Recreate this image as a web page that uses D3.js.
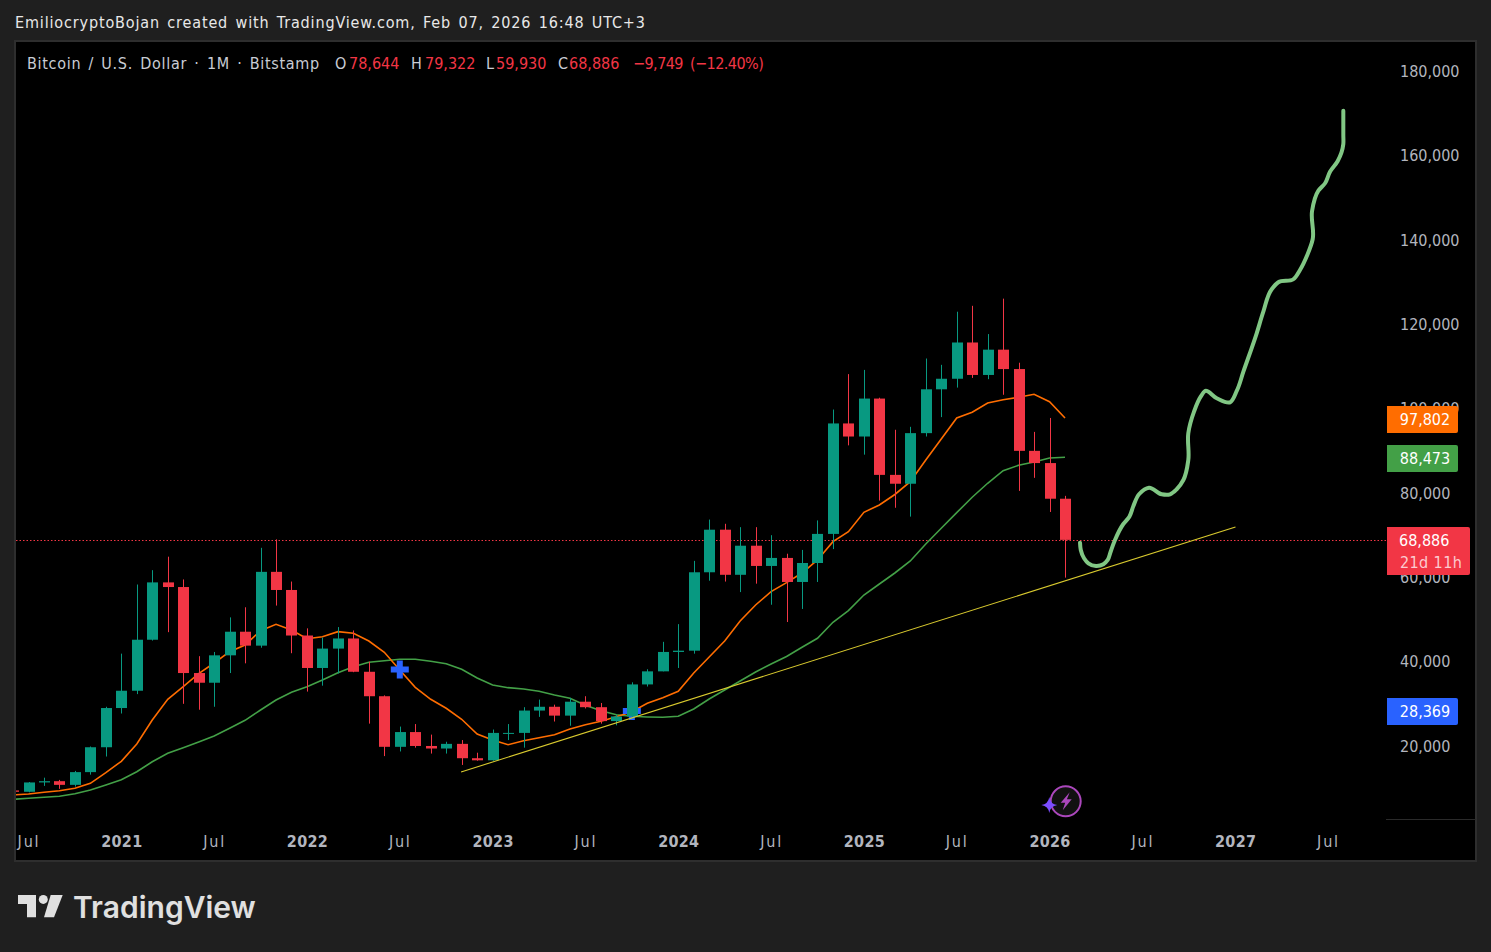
<!DOCTYPE html>
<html>
<head>
<meta charset="utf-8">
<script src="https://d3js.org/d3.v7.min.js"></script>
<style>
html, body { margin: 0; padding: 0; background: #1f1f1f; }
svg { display: block; }
text { font-family: "DejaVu Sans Condensed", "DejaVu Sans", sans-serif; font-stretch: condensed; font-size: 16px; }
.spaced { letter-spacing: 0.85px; word-spacing: 2px; }
.spaced-legend { letter-spacing: 0.7px; word-spacing: 2px; }
</style>
</head>
<body>
<svg id="chart" width="1491" height="952"></svg>
<script>
// bars are monthly, first entry is Jun 2020 (month index -1)
const firstMonth = -1;
const opens = [9450,9135,11350,11650,10780,13800,19700,29000,33100,45200,58800,57700,37300,35000,41500,47100,43800,61300,57000,46200,38500,43100,45500,37600,31800,19800,23300,20000,19400,20500,17100,16600,23100,23100,28400,29300,27200,30500,29200,25900,27000,34600,37700,42300,42600,61200,71300,60600,67500,62700,64600,58900,63400,70300,96500,93400,102400,84300,82200,94200,104600,107100,115700,108000,114000,109400,90000,87100,78644];
const highs = [10400,11450,12480,11950,14080,19870,29300,41900,58300,61700,64900,59500,41300,42300,50500,52900,67000,69000,59000,47900,45700,48200,47400,40000,32000,24600,25200,22700,21000,21400,18400,23900,25200,29200,31000,29800,31400,31800,30200,27400,35100,38200,44700,48900,63900,73700,72700,71900,71900,70000,65600,66500,73500,99800,108200,109200,102600,95000,95700,111900,110400,123000,124400,117700,126100,110900,94500,97800,79322];
const lows = [8900,9000,10530,9830,10370,13200,17500,27700,32300,45000,47000,30000,28600,29300,37300,39600,43300,53300,42000,32900,34300,37200,37500,25300,17600,18700,19600,18200,18200,15500,16500,16500,21400,19600,26900,25800,24800,28900,25300,24900,26600,34100,37700,38500,41900,59200,59000,56500,58500,53500,49400,52500,58900,66700,91300,89100,78200,76500,74400,93400,98000,105000,107300,107000,103300,80500,83600,75500,59930];
const closes = [9135,11350,11650,10780,13800,19700,29000,33100,45200,58800,57700,37300,35000,41500,47100,43800,61300,57000,46200,38500,43100,45500,37600,31800,19800,23300,20000,19400,20500,17100,16600,23100,23100,28400,29300,27200,30500,29200,25900,27000,34600,37700,42300,42600,61200,71300,60600,67500,62700,64600,58900,63400,70300,96500,93400,102400,84300,82200,94200,104600,107100,115700,108000,114000,109400,90000,87100,78644,68886];

const fastAverage = [8370,8610,9010,9390,9960,11150,13660,16370,20470,26160,31070,34060,37150,39680,42360,43950,47350,48860,47510,45450,45920,47110,46730,44900,42220,38020,33920,31070,28940,26330,22840,21420,20300,21250,21970,22680,24030,25050,25860,26950,28130,30120,31450,32970,37310,41110,44900,49650,53440,56600,58730,61030,64120,68460,70830,75430,77160,79650,82690,87840,92820,97800,99150,101360,102140,102710,103420,101660,97802];
const slowAverage = [7350,7590,7830,8070,8680,9560,10750,12000,13900,16270,18260,19590,20950,22370,24190,26090,28540,30910,32730,34060,35650,37380,38810,39850,40230,40560,40560,40090,39520,38190,36130,34470,33830,33520,32970,32090,31310,29650,28370,27420,27040,26880,26800,27040,28770,31140,33280,35410,37550,39450,41230,43410,45540,49340,52090,55810,58420,61030,63880,67910,71630,75340,78990,82310,85300,86580,87360,88310,88473];

// hand drawn projection: month index and price
const brushMonths = [67.97,68.02,68.23,68.51,69.0,69.48,69.76,69.95,70.23,70.77,71.16,71.42,71.8,72.43,73.25,73.79,74.22,74.65,74.97,74.97,75.34,75.77,76.05,76.81,77.67,78.1,78.53,79.39,79.82,80.36,80.79,81.76,82.19,82.66,83.01,82.97,83.38,83.81,84.13,84.63,84.99,84.99,84.99];
const brushPrices = [68220,66490,64520,63330,62690,63100,64120,66080,68860,72650,74390,76920,79770,81270,79700,79700,80890,83090,87840,94170,99290,102850,104200,102470,101520,104200,108780,117890,123010,128330,129990,130700,132900,136460,140190,146900,151710,153470,156220,158760,162790,164900,170690];

const trendMonths = [27.96,78.02];
const trendPrices = [13830,71940];

const crossMonths = [24,39];
const crossPrices = [38140,28300];

const priceTicks = [20000,40000,60000,80000,100000,120000,140000,160000,180000];
const timeMonths = [0,6,12,18,24,30,36,42,48,54,60,66,72,78,84];
const timeLabels = ['Jul','2021','Jul','2022','Jul','2023','Jul','2024','Jul','2025','Jul','2026','Jul','2027','Jul'];

const lastPrice = 68886;
const priceTags = [
    {text: '97,802', value: 97802, color: '#ff6d00'},
    {text: '88,473', value: 88473, color: '#43a047'},
    {text: '28,369', value: 28369, color: '#2962ff'}
];

const legendParts = [
    {x: 27, text: 'Bitcoin / U.S. Dollar · 1M · Bitstamp', color: '#c9ccd4', cls: 'spaced-legend'},
    {x: 335, text: 'O', color: '#c9ccd4'},
    {x: 349, text: '78,644', color: '#f23645'},
    {x: 411, text: 'H', color: '#c9ccd4'},
    {x: 425, text: '79,322', color: '#f23645'},
    {x: 486, text: 'L', color: '#c9ccd4'},
    {x: 496, text: '59,930', color: '#f23645'},
    {x: 558, text: 'C', color: '#c9ccd4'},
    {x: 569, text: '68,886', color: '#f23645'},
    {x: 633, text: '\u22129,749', color: '#f23645', squeeze: true},
    {x: 690, text: '(\u221212.40%)', color: '#f23645', squeeze: true}
];

const up = '#089981';
const down = '#f23645';
const bodyWidth = 11;

const svg = d3.select('#chart');

const panel = {left: 16, right: 1476, top: 42, bottom: 861};
const plotRight = 1386;
const axisBottom = 819.5;

svg.append('text')
    .attr('class', 'spaced')
    .attr('x', 15)
    .attr('y', 28)
    .attr('fill', '#e8e8e8')
    .text('EmiliocryptoBojan created with TradingView.com, Feb 07, 2026 16:48 UTC+3');

svg.append('rect')
    .attr('x', panel.left - 1)
    .attr('y', panel.top - 1)
    .attr('width', panel.right - panel.left + 1)
    .attr('height', panel.bottom - panel.top + 1)
    .attr('fill', '#000')
    .attr('stroke', '#2e2e2e')
    .attr('stroke-width', 2);

svg.append('defs').append('clipPath')
    .attr('id', 'plot-clip')
    .append('rect')
    .attr('x', panel.left)
    .attr('y', panel.top)
    .attr('width', plotRight - panel.left)
    .attr('height', axisBottom - panel.top);

const x = d3.scaleLinear().domain([0, 84]).range([28.5, 1328]);
const y = d3.scaleLinear().domain([0, 180000]).range([830.3, 71.4]);

// axes first, the price tags sit on top of them
const priceAxis = svg.append('g')
    .attr('transform', `translate(${plotRight},0)`)
    .call(d3.axisRight(y).tickValues(priceTicks).tickSize(0).tickPadding(14).tickFormat(d3.format(',')));
priceAxis.select('.domain').remove();
priceAxis.selectAll('text')
    .attr('fill', '#b2b5be')
    .style('font-size', '16px')
    .style('font-family', '"DejaVu Sans Condensed", "DejaVu Sans", sans-serif');

const timeAxis = svg.append('g')
    .attr('transform', 'translate(0,831)')
    .call(d3.axisBottom(x).tickValues(timeMonths).tickSize(0).tickPadding(5)
        .tickFormat((d, i) => timeLabels[i]));
timeAxis.select('.domain').remove();
timeAxis.selectAll('text')
    .attr('fill', '#b2b5be')
    .style('font-size', '16px')
    .style('font-family', '"DejaVu Sans Condensed", "DejaVu Sans", sans-serif')
    .style('letter-spacing', (d, i) => timeLabels[i] === 'Jul' ? '1.8px' : '0.3px')
    .style('font-weight', (d, i) => timeLabels[i] === 'Jul' ? 'normal' : 'bold');

svg.append('line')
    .attr('x1', plotRight)
    .attr('x2', panel.right)
    .attr('y1', axisBottom)
    .attr('y2', axisBottom)
    .attr('stroke', '#2a2a2a');

const plot = svg.append('g').attr('clip-path', 'url(#plot-clip)');
const monthOf = i => i + firstMonth;

// last price line
plot.append('line')
    .attr('x1', panel.left)
    .attr('x2', plotRight)
    .attr('y1', Math.round(y(lastPrice)) + 0.5)
    .attr('y2', Math.round(y(lastPrice)) + 0.5)
    .attr('stroke', down)
    .attr('stroke-dasharray', '1.5 2');

const averageLine = d3.line().x((d, i) => x(monthOf(i))).y(d => y(d));

plot.append('path')
    .attr('d', averageLine(slowAverage))
    .attr('fill', 'none')
    .attr('stroke', '#43a047')
    .attr('stroke-width', 1.6);

plot.append('path')
    .attr('d', averageLine(fastAverage))
    .attr('fill', 'none')
    .attr('stroke', '#ff6d00')
    .attr('stroke-width', 1.6);

// blue cross markers
const crossSize = 9;
const crossThick = 3;
const crosses = plot.selectAll('.cross')
    .data(crossMonths)
    .enter()
    .append('path')
    .attr('class', 'cross')
    .attr('fill', '#2962ff')
    .attr('d', (d, i) => {
        const cx = x(d);
        const cy = y(crossPrices[i]);
        return `M${cx - crossSize},${cy - crossThick}H${cx - crossThick}V${cy - crossSize}H${cx + crossThick}V${cy - crossThick}H${cx + crossSize}V${cy + crossThick}H${cx + crossThick}V${cy + crossSize}H${cx - crossThick}V${cy + crossThick}H${cx - crossSize}Z`;
    });

// candles
const candles = plot.selectAll('.candle')
    .data(opens)
    .enter()
    .append('g')
    .attr('class', 'candle');

candles.append('line')
    .attr('x1', (d, i) => Math.round(x(monthOf(i))) + 0.5)
    .attr('x2', (d, i) => Math.round(x(monthOf(i))) + 0.5)
    .attr('y1', (d, i) => y(highs[i]))
    .attr('y2', (d, i) => y(lows[i]))
    .attr('stroke', (d, i) => closes[i] >= opens[i] ? up : down);

candles.append('rect')
    .attr('x', (d, i) => Math.round(x(monthOf(i))) + 0.5 - bodyWidth / 2)
    .attr('y', (d, i) => y(Math.max(opens[i], closes[i])))
    .attr('width', bodyWidth)
    .attr('height', (d, i) => Math.max(1, Math.abs(y(opens[i]) - y(closes[i]))))
    .attr('fill', (d, i) => closes[i] >= opens[i] ? up : down);

// trendline
plot.append('path')
    .attr('d', d3.line().x((d, i) => x(d)).y((d, i) => y(trendPrices[i]))(trendMonths))
    .attr('fill', 'none')
    .attr('stroke', '#d8c92e')
    .attr('stroke-width', 1.1);

// projection brush
plot.append('path')
    .attr('d', d3.line()
        .x(d => x(d))
        .y((d, i) => y(brushPrices[i]))
        .curve(d3.curveCatmullRom.alpha(1))(brushMonths))
    .attr('fill', 'none')
    .attr('stroke', '#81c784')
    .attr('stroke-width', 4)
    .attr('stroke-linecap', 'round')
    .attr('stroke-linejoin', 'round');

// price tags on the right axis
const tagLeft = plotRight + 1;
const tagWidth = 71;
const tagHeight = 27;
const tagCenter = v => Math.round(y(v) - 0.3);
function tagPath(x0, y0, w, h, r) {
    return `M${x0},${y0}H${x0 + w - r}Q${x0 + w},${y0} ${x0 + w},${y0 + r}V${y0 + h - r}Q${x0 + w},${y0 + h} ${x0 + w - r},${y0 + h}H${x0}Z`;
}

const tags = svg.selectAll('.tag')
    .data(priceTags)
    .enter()
    .append('g')
    .attr('class', 'tag');

tags.append('path')
    .attr('d', d => tagPath(tagLeft, tagCenter(d.value) - 12, tagWidth, tagHeight, 2))
    .attr('fill', d => d.color);

tags.append('text')
    .attr('x', tagLeft + 38)
    .attr('y', d => tagCenter(d.value) + 1)
    .attr('dy', '0.35em')
    .attr('text-anchor', 'middle')
    .attr('fill', '#fff')
    .text(d => d.text);

const lastY = Math.round(y(lastPrice));
svg.append('path')
    .attr('d', tagPath(tagLeft, lastY - 13, 83, 48, 2))
    .attr('fill', down);
svg.append('text')
    .attr('x', 1399)
    .attr('y', lastY + 6)
    .attr('fill', '#fff')
    .text(d3.format(',')(lastPrice));
svg.append('text')
    .attr('x', 1400)
    .attr('y', lastY + 28)
    .attr('fill', '#fff')
    .attr('fill-opacity', 0.75)
    .style('letter-spacing', '0.4px')
    .text('21d 11h');

// legend line
svg.selectAll('.legend')
    .data(legendParts)
    .enter()
    .append('text')
    .attr('class', d => d.cls ? 'legend ' + d.cls : 'legend')
    .attr('x', d => d.x)
    .attr('y', 69)
    .attr('fill', d => d.color)
    .style('letter-spacing', d => d.squeeze ? '-0.55px' : null)
    .text(d => d.text);

// bolt badge near the bottom of the chart
const badge = svg.append('g').attr('transform', 'translate(1065.7,801.3)');
badge.append('circle')
    .attr('r', 15)
    .attr('fill', '#111')
    .attr('stroke', '#ab47bc')
    .attr('stroke-width', 2);
badge.append('path')
    .attr('d', 'M4,-9L-5,1.5H-0.5L-3,9L6,-2H1.2Z')
    .attr('fill', '#ab47bc');
badge.append('path')
    .attr('transform', 'translate(-16.4,3.7)')
    .attr('d', 'M0,-8Q1,-1 8,0Q1,1 0,8Q-1,1 -8,0Q-1,-1 0,-8Z')
    .attr('fill', '#7c4dff');

// logo
const logo = svg.append('g').attr('fill', '#e0e0e0');
logo.append('path').attr('d', 'M18,895H36V917.3H27V904H18Z');
logo.append('circle').attr('cx', 43.3).attr('cy', 899.4).attr('r', 4.5);
logo.append('path').attr('d', 'M50.7,895H62.7L54,917.3H44Z');
logo.append('text')
    .attr('x', 73)
    .attr('y', 918)
    .style('font-family', 'Inter, sans-serif')
    .style('font-stretch', 'normal')
    .style('font-size', '30px')
    .style('font-weight', 600)
    .text('TradingView');
</script>
</body>
</html>
